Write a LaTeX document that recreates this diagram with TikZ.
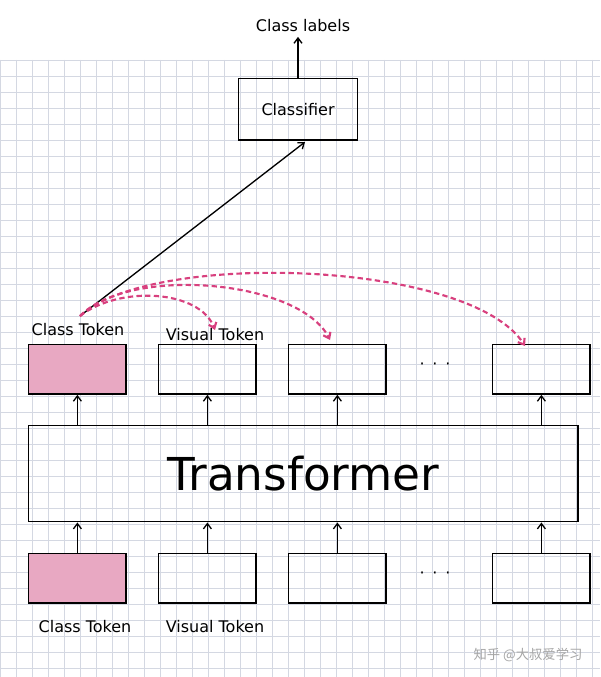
\documentclass[tikz,border=0pt]{standalone}
\usepackage{fontspec}
\usetikzlibrary{arrows.meta}
\setmainfont{DejaVu Sans}
\newfontfamily\cjk{Noto Sans CJK SC}
\definecolor{tokpink}{HTML}{E8A8C2}
\definecolor{dashpink}{HTML}{D8407E}
\definecolor{gridc}{HTML}{D4D8E2}
\begin{document}
\begin{tikzpicture}[x=0.75pt,y=-0.75pt,
  box/.style={draw=black,line width=1.1pt,minimum width=73pt,minimum height=37pt,inner sep=0,anchor=north west},
  arr/.style={-{Straight Barb[length=4pt,width=6pt]},line width=1pt},
  pk/.style={draw=dashpink,dash pattern=on 4pt off 2.5pt,line width=1.6pt,-{Straight Barb[length=4pt,width=6pt]}},
  lab/.style={font=\fontsize{12}{13}\selectfont}]
\useasboundingbox (0,0) rectangle (600,677);
\fill[white] (0,0) rectangle (600,677);
\foreach \i in {0,...,37} \draw[gridc,line width=0.6pt] (\i*16,60) -- (\i*16,677);
\foreach \j in {0,...,38} \draw[gridc,line width=0.6pt] (0,60+\j*16) -- (600,60+\j*16);
\node[lab] (cl) at (303,26) {Class labels};
\node[box,minimum width=89pt,minimum height=46pt,font=\fontsize{12}{13}\selectfont] (cf) at (238,78) {Classifier};
\draw[arr] (cf.north -| 298,0) -- (cl.south -| 298,0);
\node[box,fill=tokpink] (t1) at (28,344) {};
\node[box] (t2) at (158,344) {};
\node[box] (t3) at (288,344) {};
\node[box] (t4) at (492,344) {};
\node[font=\large] (d1) at (435,366) {·\, ·\, ·};
\node[lab] (l1) at (78,330) {Class Token};
\node[lab] (l2) at (215,335) {Visual Token};
\node[box,minimum width=412pt,minimum height=72pt] (tr) at (28,425) {\fontsize{34}{36}\selectfont Transformer};
\node[box,fill=tokpink] (b1) at (28,553) {};
\node[box] (b2) at (158,553) {};
\node[box] (b3) at (288,553) {};
\node[box] (b4) at (492,553) {};
\node[font=\large] (d2) at (435,575) {·\, ·\, ·};
\node[lab] (l3) at (85,627) {Class Token};
\node[lab] (l4) at (215,627) {Visual Token};
\node[text=gray!70!white,font=\cjk\fontsize{10}{12}\selectfont] (wm) at (528,655) {知乎 @大叔爱学习};
\coordinate (src) at (80,316);
\draw[arr] (src) -- (305,142);
\foreach \b in {t1,t2,t3,t4} \draw[arr] (tr.north -| \b.south) -- (\b.south);
\foreach \b in {b1,b2,b3,b4} \draw[arr] (\b.north) -- (tr.south -| \b.north);
\draw[pk] (src) .. controls (120,285) and (200,290) .. (215,330);
\draw[pk] (src) .. controls (130,265) and (300,280) .. (330,340);
\draw[pk] (src) .. controls (150,250) and (470,260) .. (525,346);
\end{tikzpicture}
\end{document}
